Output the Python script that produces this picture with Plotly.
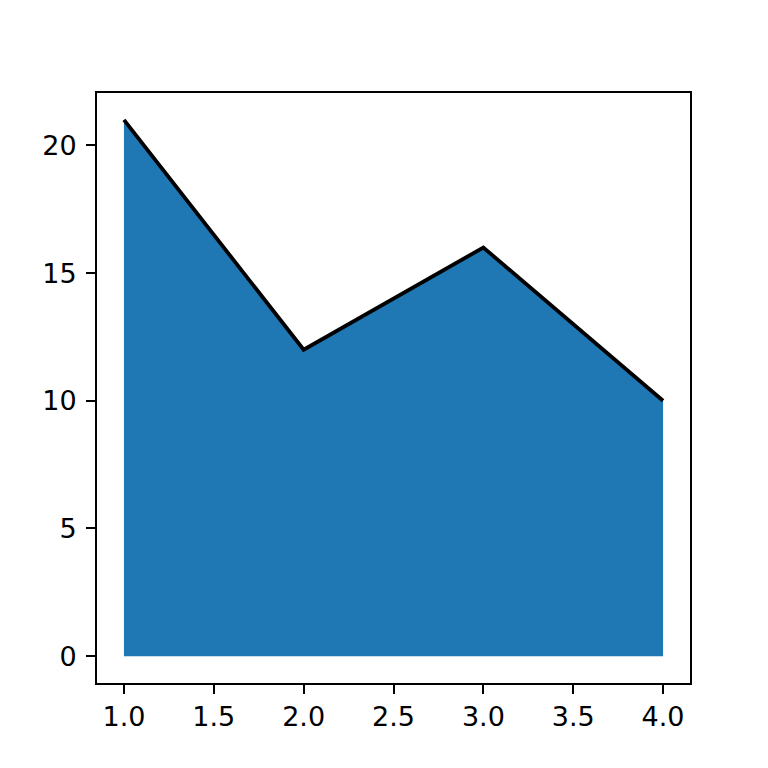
import plotly.graph_objects as go

# data
x_vals = [1, 2, 3, 4]
y_vals = [21, 12, 16, 10]
x_ticks = [1.0, 1.5, 2.0, 2.5, 3.0, 3.5, 4.0]
y_ticks = [0, 5, 10, 15, 20]

fig = go.Figure()

# filled area down to zero
fig.add_trace(go.Scatter(
    x=x_vals, y=y_vals,
    mode='lines',
    fill='tozeroy',
    fillcolor='#1f77b4',
    line=dict(width=0, color='#1f77b4'),
    showlegend=False,
))

# black outline on top
fig.add_trace(go.Scatter(
    x=x_vals, y=y_vals,
    mode='lines',
    line=dict(width=3.8, color='black'),
    showlegend=False,
))

axis_style = dict(
    showline=True, mirror=True, linecolor='black', linewidth=2,
    ticks='outside', ticklen=9, tickwidth=2, tickcolor='black',
    showgrid=False, zeroline=False,
    tickfont=dict(family='DejaVu Sans', size=27, color='black'),
)

fig.update_xaxes(range=[0.85, 4.15], tickvals=x_ticks,
                 ticktext=['%.1f' % t for t in x_ticks], **axis_style)
fig.update_yaxes(range=[-1.05, 22.05], tickvals=y_ticks,
                 ticklabelstandoff=4, **axis_style)

fig.update_layout(
    width=768, height=768,
    margin=dict(l=89, r=86, t=85, b=93, autoexpand=False),
    plot_bgcolor='white', paper_bgcolor='white',
)

fig.write_html("out.html")
